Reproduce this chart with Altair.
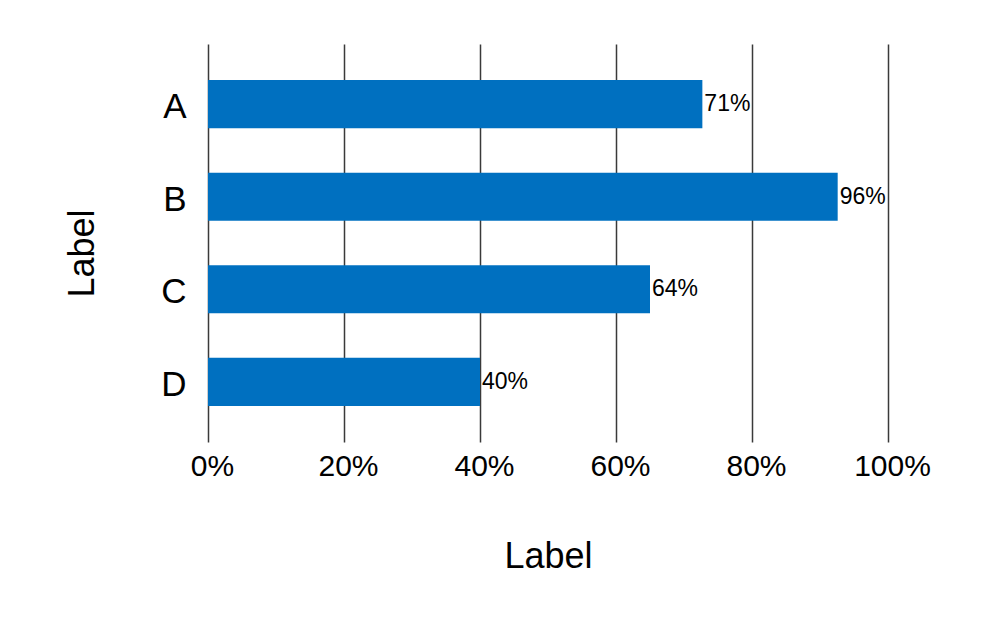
import altair as alt
import pandas as pd

categories = ["A", "B", "C", "D"]
values = [72.7, 92.6, 65.0, 40.0]
value_labels = ["71%", "96%", "64%", "40%"]

df = pd.DataFrame({"cat": categories, "val": values, "lab": value_labels})

FONT = "Liberation Sans"

x = alt.X(
    "val:Q",
    scale=alt.Scale(domain=[0, 100], nice=False, zero=True),
    axis=alt.Axis(
        values=[0, 20, 40, 60, 80, 100],
        labelExpr="datum.value + '%'",
        title="Label",
        grid=True,
        gridColor="#3a3a3a",
        gridWidth=1.5,
        gridOpacity=1,
        domain=False,
        ticks=False,
        labelFlush=False,
        labelOffset=4,
        labelFontSize=30,
        labelFont=FONT,
        labelColor="#000000",
        labelBaseline="alphabetic",
        labelPadding=33,
        titleFontSize=36,
        titleFont=FONT,
        titleFontWeight="normal",
        titleColor="#000000",
        titleBaseline="alphabetic",
        titleY=125,
    ),
)

y = alt.Y(
    "cat:N",
    sort=categories,
    scale=alt.Scale(paddingInner=0.48, paddingOuter=0.39),
    axis=alt.Axis(
        title="Label",
        domain=False,
        ticks=False,
        grid=False,
        labelFontSize=35,
        labelFont=FONT,
        labelColor="#000000",
        labelPadding=22,
        labelOffset=3,
        titleFontSize=36,
        titleFont=FONT,
        titleFontWeight="normal",
        titleColor="#000000",
        titleAngle=270,
        titleBaseline="alphabetic",
        titleX=-115,
        titleY=209,
    ),
)

bars = alt.Chart(df).mark_bar(color="#0070C0").encode(x=x, y=y)

texts = alt.Chart(df).mark_text(
    align="left", baseline="middle", dx=2, fontSize=23, font=FONT, color="#000000"
).encode(x="val:Q", y=alt.Y("cat:N", sort=categories), text="lab:N")

chart = (
    alt.layer(bars, texts)
    .properties(
        width=680,
        height=398,
        autosize=alt.AutoSizeParams(type="none"),
        padding={"left": 200, "top": 36, "right": 100, "bottom": 150},
        view=alt.ViewBackground(strokeWidth=0, strokeOpacity=0),
    )
    .configure_view(strokeWidth=0, strokeOpacity=0)
    .configure(background="white")
)

chart.save("out.html", embed_options={"renderer": "svg", "actions": False})
